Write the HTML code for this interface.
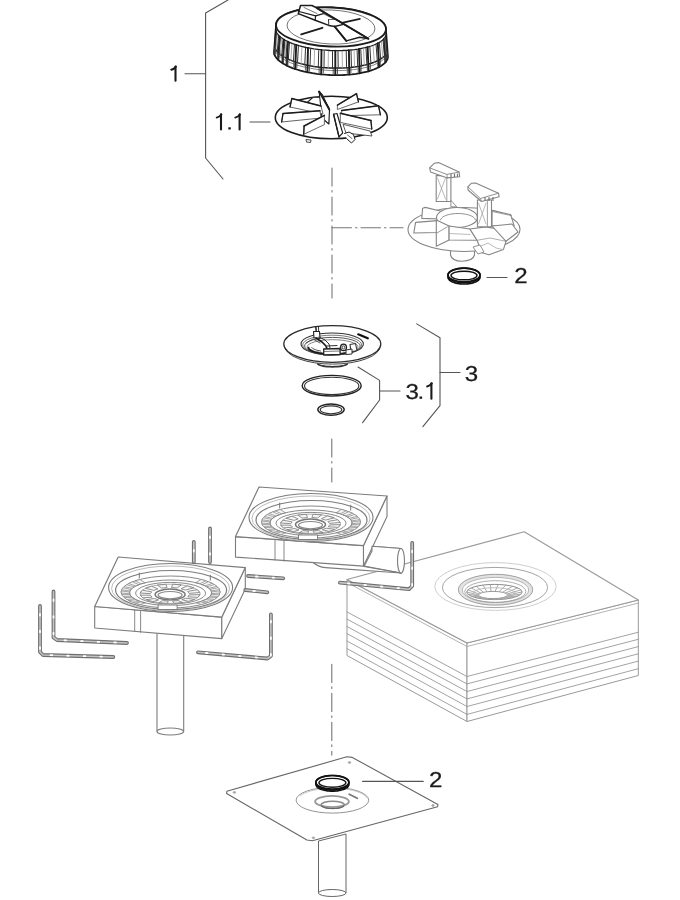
<!DOCTYPE html>
<html><head><meta charset="utf-8">
<style>
html,body{margin:0;padding:0;background:#fff;}
body{width:680px;height:900px;overflow:hidden;}
svg{display:block;}
text{text-rendering:geometricPrecision;}
.gs{filter:grayscale(1);}
</style></head><body>
<svg width="680" height="900" viewBox="0 0 680 900">
<rect width="680" height="900" fill="#fff"/>
<line x1="332" y1="168" x2="332" y2="298" stroke="#777" stroke-width="1.1" stroke-linecap="round" stroke-dasharray="18,4.5,1.5,5"/>
<line x1="332" y1="227.7" x2="403" y2="227.7" stroke="#777" stroke-width="1.1" stroke-linecap="round" stroke-dasharray="19.5,4,1.5,4"/>
<line x1="331.8" y1="439" x2="331.8" y2="482" stroke="#777" stroke-width="1.1" stroke-linecap="round" stroke-dasharray="18,4.5,1.5,5"/>
<line x1="331.8" y1="664.4" x2="331.8" y2="755" stroke="#777" stroke-width="1.1" stroke-linecap="round" stroke-dasharray="18,4.5,1.5,5"/>
<polygon points="276.1,24.6 276.3,23.1 276.9,21.6 277.8,20.1 279,18.7 280.6,17.3 282.4,16 284.6,14.8 287,13.6 289.8,12.5 292.7,11.5 296,10.6 299.4,9.8 303,9.1 306.8,8.6 310.8,8.1 314.8,7.7 319,7.5 323.2,7.4 327.5,7.4 331.9,7.5 336.2,7.8 340.4,8.1 344.7,8.6 348.8,9.2 352.8,9.9 356.7,10.7 360.4,11.6 364,12.6 367.3,13.7 370.5,14.9 373.3,16.2 376,17.5 378.3,18.9 380.3,20.3 382.1,21.8 383.5,23.3 384.6,24.8 385.4,26.3 385.8,27.9 385.9,29.4 387.9,56.5 387.7,58.1 387.1,59.7 386.2,61.3 384.9,62.8 383.3,64.3 381.3,65.7 379.1,67.1 376.5,68.3 373.7,69.5 370.6,70.6 367.3,71.6 363.7,72.4 360,73.2 356,73.8 351.9,74.3 347.7,74.7 343.4,75 339,75.1 334.6,75.1 330.1,75 325.6,74.7 321.2,74.3 316.8,73.8 312.5,73.2 308.4,72.4 304.3,71.6 300.5,70.6 296.8,69.5 293.3,68.3 290.1,67.1 287.1,65.7 284.4,64.3 282,62.8 279.8,61.3 278,59.7 276.6,58.1 275.4,56.5 274.6,54.8 274.2,53.2 274.1,51.5" stroke="#1c1c1c" stroke-width="1.8" fill="#fff" stroke-linejoin="round" />
<polyline points="386.3,34.8 385.7,36.2 384.9,37.6 383.8,39 382.4,40.3 380.7,41.6 378.7,42.8 376.4,43.9 373.9,45 371.2,46 368.2,46.9 365,47.7 361.6,48.4 358.1,49.1 354.4,49.6 350.5,50 346.6,50.3 342.5,50.5 338.5,50.6 334.3,50.6 330.1,50.5 326,50.2 321.9,49.9 317.8,49.4 313.8,48.9 309.9,48.2 306.1,47.5 302.5,46.6 299,45.7 295.7,44.7 292.6,43.6 289.7,42.4 287,41.2 284.6,39.9 282.5,38.6 280.6,37.2 279,35.8 277.7,34.3 276.7,32.9 276,31.4 275.6,29.9" stroke="#1c1c1c" stroke-width="1.3" fill="none" stroke-linejoin="round" stroke-linecap="round" />
<polyline points="387.2,51.7 386.6,53.1 385.6,54.6 384.4,56 382.9,57.4 381.1,58.7 379,60 376.6,61.2 374.1,62.3 371.3,63.3 368.2,64.2 365,65.1 361.6,65.8 358,66.5 354.3,67 350.4,67.5 346.5,67.8 342.5,68 338.4,68.1 334.2,68.1 330.1,68 325.9,67.7 321.8,67.4 317.7,66.9 313.8,66.4 309.8,65.7 306.1,64.9 302.4,64.1 298.9,63.1 295.6,62.1 292.4,60.9 289.5,59.7 286.8,58.5 284.3,57.1 282.1,55.8 280.1,54.3 278.4,52.9 277,51.3 275.9,49.8 275.1,48.3 274.6,46.7" stroke="#1c1c1c" stroke-width="1.5" fill="none" stroke-linejoin="round" stroke-linecap="round" />
<polyline points="387,54.9 386.2,56.3 385.1,57.7 383.8,59.1 382.2,60.4 380.3,61.7 378.2,62.9 375.9,64 373.3,65.1 370.5,66.1 367.5,67 364.3,67.8 360.9,68.5 357.4,69.1 353.7,69.6 350,70 346.1,70.3 342.2,70.5 338.2,70.6 334.1,70.6 330.1,70.5 326,70.2 322,69.9 318,69.5 314.1,68.9 310.3,68.3 306.6,67.5 303,66.7 299.5,65.8 296.3,64.8 293.1,63.7 290.2,62.6 287.5,61.3 285,60.1 282.8,58.7 280.8,57.3 279,55.9 277.6,54.5 276.3,53 275.4,51.5 274.8,50" stroke="#666" stroke-width="0.8" fill="none" stroke-linejoin="round" stroke-linecap="round" />
<line x1="276" y1="31.3" x2="274.5" y2="54.5" stroke="#1c1c1c" stroke-width="1.9" stroke-linecap="round" />
<line x1="279.6" y1="36.4" x2="278.2" y2="59.9" stroke="#1c1c1c" stroke-width="1.9" stroke-linecap="round" />
<line x1="284" y1="39.6" x2="282.7" y2="63.3" stroke="#1c1c1c" stroke-width="1.9" stroke-linecap="round" />
<line x1="288" y1="41.7" x2="286.8" y2="65.6" stroke="#1c1c1c" stroke-width="1.9" stroke-linecap="round" />
<line x1="296.2" y1="44.9" x2="295.2" y2="69" stroke="#1c1c1c" stroke-width="1.9" stroke-linecap="round" />
<line x1="308" y1="47.9" x2="307.4" y2="72.2" stroke="#1c1c1c" stroke-width="1.9" stroke-linecap="round" />
<line x1="321.5" y1="49.9" x2="321.2" y2="74.3" stroke="#1c1c1c" stroke-width="1.9" stroke-linecap="round" />
<line x1="335.3" y1="50.6" x2="335.3" y2="75.1" stroke="#1c1c1c" stroke-width="1.9" stroke-linecap="round" />
<line x1="348.9" y1="50.2" x2="349.3" y2="74.6" stroke="#1c1c1c" stroke-width="1.9" stroke-linecap="round" />
<line x1="359" y1="48.9" x2="359.7" y2="73.2" stroke="#1c1c1c" stroke-width="1.9" stroke-linecap="round" />
<line x1="367.6" y1="47.1" x2="368.6" y2="71.2" stroke="#1c1c1c" stroke-width="1.9" stroke-linecap="round" />
<line x1="377.8" y1="43.2" x2="379.1" y2="67.1" stroke="#1c1c1c" stroke-width="1.9" stroke-linecap="round" />
<line x1="384.1" y1="38.7" x2="385.5" y2="62.2" stroke="#1c1c1c" stroke-width="1.9" stroke-linecap="round" />
<line x1="385.8" y1="36.1" x2="387.3" y2="59.4" stroke="#1c1c1c" stroke-width="1.9" stroke-linecap="round" />
<line x1="276.4" y1="33.3" x2="274.9" y2="48.6" stroke="#333" stroke-width="1.0" stroke-linecap="round" />
<line x1="277.3" y1="34.9" x2="275.9" y2="50.2" stroke="#999" stroke-width="0.8" stroke-linecap="round" />
<line x1="278.6" y1="36.4" x2="277.2" y2="51.8" stroke="#333" stroke-width="1.0" stroke-linecap="round" />
<line x1="274.8" y1="48.3" x2="274.8" y2="53.8" stroke="#444" stroke-width="0.9" stroke-linecap="round" />
<line x1="277.4" y1="52.1" x2="277.4" y2="57.6" stroke="#444" stroke-width="0.9" stroke-linecap="round" />
<line x1="280.4" y1="38" x2="279" y2="53.6" stroke="#333" stroke-width="1.0" stroke-linecap="round" />
<line x1="281.6" y1="39" x2="280.3" y2="54.7" stroke="#999" stroke-width="0.8" stroke-linecap="round" />
<line x1="283" y1="40" x2="281.7" y2="55.7" stroke="#333" stroke-width="1.0" stroke-linecap="round" />
<line x1="278.8" y1="53.4" x2="278.8" y2="58.9" stroke="#444" stroke-width="0.9" stroke-linecap="round" />
<line x1="282" y1="55.8" x2="282" y2="61.3" stroke="#444" stroke-width="0.9" stroke-linecap="round" />
<line x1="284.8" y1="41" x2="283.5" y2="56.8" stroke="#333" stroke-width="1.0" stroke-linecap="round" />
<line x1="285.9" y1="41.6" x2="284.7" y2="57.5" stroke="#999" stroke-width="0.8" stroke-linecap="round" />
<line x1="287.1" y1="42.3" x2="285.9" y2="58.1" stroke="#333" stroke-width="1.0" stroke-linecap="round" />
<line x1="283.3" y1="56.7" x2="283.3" y2="62.2" stroke="#444" stroke-width="0.9" stroke-linecap="round" />
<line x1="286.1" y1="58.3" x2="286.1" y2="63.8" stroke="#444" stroke-width="0.9" stroke-linecap="round" />
<line x1="289.5" y1="43.3" x2="288.3" y2="59.3" stroke="#333" stroke-width="1.0" stroke-linecap="round" />
<line x1="291.9" y1="44.3" x2="290.8" y2="60.4" stroke="#999" stroke-width="0.8" stroke-linecap="round" />
<line x1="294.4" y1="45.3" x2="293.4" y2="61.4" stroke="#333" stroke-width="1.0" stroke-linecap="round" />
<line x1="287.9" y1="59.1" x2="287.9" y2="64.6" stroke="#444" stroke-width="0.9" stroke-linecap="round" />
<line x1="293.8" y1="61.5" x2="293.8" y2="67" stroke="#444" stroke-width="0.9" stroke-linecap="round" />
<line x1="298.4" y1="46.5" x2="297.5" y2="62.7" stroke="#333" stroke-width="1.0" stroke-linecap="round" />
<line x1="301.9" y1="47.5" x2="301.1" y2="63.7" stroke="#999" stroke-width="0.8" stroke-linecap="round" />
<line x1="305.5" y1="48.4" x2="304.8" y2="64.7" stroke="#333" stroke-width="1.0" stroke-linecap="round" />
<line x1="296.9" y1="62.6" x2="296.9" y2="68.1" stroke="#444" stroke-width="0.9" stroke-linecap="round" />
<line x1="305.4" y1="64.8" x2="305.4" y2="70.3" stroke="#444" stroke-width="0.9" stroke-linecap="round" />
<line x1="310.6" y1="49.4" x2="310" y2="65.8" stroke="#333" stroke-width="1.0" stroke-linecap="round" />
<line x1="314.6" y1="50" x2="314.1" y2="66.4" stroke="#999" stroke-width="0.8" stroke-linecap="round" />
<line x1="318.7" y1="50.6" x2="318.3" y2="67" stroke="#333" stroke-width="1.0" stroke-linecap="round" />
<line x1="309.4" y1="65.6" x2="309.4" y2="71.1" stroke="#444" stroke-width="0.9" stroke-linecap="round" />
<line x1="319.1" y1="67.1" x2="319.1" y2="72.6" stroke="#444" stroke-width="0.9" stroke-linecap="round" />
<line x1="324.2" y1="51.1" x2="324" y2="67.6" stroke="#333" stroke-width="1.0" stroke-linecap="round" />
<line x1="328.4" y1="51.4" x2="328.2" y2="67.9" stroke="#999" stroke-width="0.8" stroke-linecap="round" />
<line x1="332.5" y1="51.6" x2="332.5" y2="68.1" stroke="#333" stroke-width="1.0" stroke-linecap="round" />
<line x1="323.3" y1="67.5" x2="323.3" y2="73" stroke="#444" stroke-width="0.9" stroke-linecap="round" />
<line x1="333.2" y1="68.1" x2="333.2" y2="73.6" stroke="#444" stroke-width="0.9" stroke-linecap="round" />
<line x1="338" y1="51.6" x2="338.2" y2="68.1" stroke="#333" stroke-width="1.0" stroke-linecap="round" />
<line x1="342.2" y1="51.5" x2="342.4" y2="68" stroke="#999" stroke-width="0.8" stroke-linecap="round" />
<line x1="346.2" y1="51.3" x2="346.6" y2="67.8" stroke="#333" stroke-width="1.0" stroke-linecap="round" />
<line x1="337.5" y1="68.1" x2="337.5" y2="73.6" stroke="#444" stroke-width="0.9" stroke-linecap="round" />
<line x1="347.3" y1="67.8" x2="347.3" y2="73.3" stroke="#444" stroke-width="0.9" stroke-linecap="round" />
<line x1="351" y1="51" x2="351.5" y2="67.4" stroke="#333" stroke-width="1.0" stroke-linecap="round" />
<line x1="354.1" y1="50.6" x2="354.6" y2="67" stroke="#999" stroke-width="0.8" stroke-linecap="round" />
<line x1="357.1" y1="50.2" x2="357.7" y2="66.6" stroke="#333" stroke-width="1.0" stroke-linecap="round" />
<line x1="350.9" y1="67.4" x2="350.9" y2="72.9" stroke="#444" stroke-width="0.9" stroke-linecap="round" />
<line x1="358.2" y1="66.5" x2="358.2" y2="72" stroke="#444" stroke-width="0.9" stroke-linecap="round" />
<line x1="360.8" y1="49.6" x2="361.6" y2="65.9" stroke="#333" stroke-width="1.0" stroke-linecap="round" />
<line x1="363.5" y1="49.1" x2="364.3" y2="65.3" stroke="#999" stroke-width="0.8" stroke-linecap="round" />
<line x1="366" y1="48.5" x2="366.9" y2="64.7" stroke="#333" stroke-width="1.0" stroke-linecap="round" />
<line x1="361.1" y1="66" x2="361.1" y2="71.5" stroke="#444" stroke-width="0.9" stroke-linecap="round" />
<line x1="367.3" y1="64.6" x2="367.3" y2="70.1" stroke="#444" stroke-width="0.9" stroke-linecap="round" />
<line x1="369.9" y1="47.4" x2="370.9" y2="63.5" stroke="#333" stroke-width="1.0" stroke-linecap="round" />
<line x1="373.1" y1="46.3" x2="374.3" y2="62.3" stroke="#999" stroke-width="0.8" stroke-linecap="round" />
<line x1="376.1" y1="45.1" x2="377.3" y2="61" stroke="#333" stroke-width="1.0" stroke-linecap="round" />
<line x1="370.4" y1="63.7" x2="370.4" y2="69.2" stroke="#444" stroke-width="0.9" stroke-linecap="round" />
<line x1="377.7" y1="60.8" x2="377.7" y2="66.3" stroke="#444" stroke-width="0.9" stroke-linecap="round" />
<line x1="379.4" y1="43.4" x2="380.7" y2="59.2" stroke="#333" stroke-width="1.0" stroke-linecap="round" />
<line x1="381.4" y1="42.1" x2="382.8" y2="57.7" stroke="#999" stroke-width="0.8" stroke-linecap="round" />
<line x1="383.1" y1="40.7" x2="384.5" y2="56.2" stroke="#333" stroke-width="1.0" stroke-linecap="round" />
<line x1="380.3" y1="59.4" x2="380.3" y2="64.9" stroke="#444" stroke-width="0.9" stroke-linecap="round" />
<line x1="384.8" y1="56" x2="384.8" y2="61.5" stroke="#444" stroke-width="0.9" stroke-linecap="round" />
<line x1="384.5" y1="39.2" x2="385.9" y2="54.6" stroke="#333" stroke-width="1.0" stroke-linecap="round" />
<line x1="385.1" y1="38.4" x2="386.5" y2="53.8" stroke="#999" stroke-width="0.8" stroke-linecap="round" />
<line x1="385.5" y1="37.6" x2="387" y2="53" stroke="#333" stroke-width="1.0" stroke-linecap="round" />
<line x1="385.8" y1="54.8" x2="385.8" y2="60.3" stroke="#444" stroke-width="0.9" stroke-linecap="round" />
<line x1="387.1" y1="52.8" x2="387.1" y2="58.3" stroke="#444" stroke-width="0.9" stroke-linecap="round" />
<ellipse cx="331" cy="27" rx="55" ry="19.5" stroke="#1c1c1c" stroke-width="1.8" fill="#fff" transform="rotate(2.5 331 27)" />
<ellipse cx="331" cy="27" rx="44" ry="17" stroke="#666" stroke-width="0.9" fill="none" transform="rotate(2.5 331 27)" />
<line x1="301.2" y1="34.4" x2="322.4" y2="27.8" stroke="#1c1c1c" stroke-width="1.9" stroke-linecap="round" />
<line x1="341.9" y1="22.9" x2="359.9" y2="18.8" stroke="#1c1c1c" stroke-width="1.7" stroke-linecap="round" />
<polygon points="298.3,13.6 300.5,5.5 312,5.5 317,8.1 368.4,38.7 359.6,37.2 346.3,40.9 334.6,26.5 328.8,25.4 315.2,20.2" stroke="#1c1c1c" stroke-width="1.5" fill="#fff" stroke-linejoin="round" />
<line x1="299" y1="11.5" x2="315.6" y2="15.8" stroke="#1c1c1c" stroke-width="1.2" stroke-linecap="round" />
<line x1="315.6" y1="15.8" x2="323.3" y2="13.6" stroke="#1c1c1c" stroke-width="1.3" stroke-linecap="round" />
<line x1="315.6" y1="15.8" x2="315.2" y2="20.2" stroke="#1c1c1c" stroke-width="1.2" stroke-linecap="round" />
<line x1="328.5" y1="19.5" x2="328.8" y2="25.4" stroke="#333" stroke-width="1.0" stroke-linecap="round" />
<line x1="323.3" y1="13.6" x2="334.7" y2="19.5" stroke="#444" stroke-width="0.9" stroke-linecap="round" />
<line x1="328.5" y1="19.5" x2="334.7" y2="19.5" stroke="#444" stroke-width="0.8" stroke-linecap="round" />
<line x1="334.6" y1="26.5" x2="343.4" y2="24.3" stroke="#1c1c1c" stroke-width="1.3" stroke-linecap="round" />
<line x1="343.4" y1="24.3" x2="364" y2="35.7" stroke="#444" stroke-width="0.9" stroke-linecap="round" />
<line x1="334.6" y1="26.5" x2="346.3" y2="40.9" stroke="#1c1c1c" stroke-width="1.9" stroke-linecap="round" />
<line x1="304" y1="7.5" x2="317" y2="13.5" stroke="#555" stroke-width="0.8" stroke-linecap="round" />
<line x1="317" y1="8.1" x2="368.4" y2="38.7" stroke="#1c1c1c" stroke-width="1.9" stroke-linecap="round" />
<ellipse cx="331.3" cy="117.5" rx="56" ry="21.3" stroke="#1c1c1c" stroke-width="1.6" fill="#fff" />
<polygon points="307.7,102 313,97.3 321,97.3 321,106 308,104" stroke="#1c1c1c" stroke-width="1.1" fill="#fff" stroke-linejoin="round" />
<polygon points="319.1,91.5 328.8,108 328.8,124 322,101" stroke="#555" stroke-width="0.9" fill="#fff" stroke-linejoin="round" />
<line x1="319.1" y1="91.5" x2="328.8" y2="108" stroke="#1c1c1c" stroke-width="1.5" stroke-linecap="round" />
<line x1="319.1" y1="91.5" x2="322" y2="101" stroke="#1c1c1c" stroke-width="1.3" stroke-linecap="round" />
<polygon points="319.1,91.5 322.5,95 329.5,110 328.8,124 322,118" stroke="#1c1c1c" stroke-width="1.1" fill="#fff" stroke-linejoin="round" />
<line x1="319.1" y1="91.5" x2="329.5" y2="110" stroke="#1c1c1c" stroke-width="1.6" stroke-linecap="round" />
<polygon points="356.5,93.7 337.4,105.2 337.4,109.5 358.5,101.9" stroke="#555" stroke-width="0.9" fill="#fff" stroke-linejoin="round" />
<line x1="356.5" y1="93.7" x2="337.4" y2="105.2" stroke="#1c1c1c" stroke-width="1.5" stroke-linecap="round" />
<line x1="356.5" y1="93.7" x2="358.5" y2="101.9" stroke="#1c1c1c" stroke-width="1.3" stroke-linecap="round" />
<polygon points="291.8,98.6 321,106 323,114 290,107" stroke="#555" stroke-width="0.9" fill="#fff" stroke-linejoin="round" />
<line x1="291.8" y1="98.6" x2="321" y2="106" stroke="#1c1c1c" stroke-width="1.5" stroke-linecap="round" />
<line x1="291.8" y1="98.6" x2="290" y2="107" stroke="#1c1c1c" stroke-width="1.3" stroke-linecap="round" />
<polygon points="378.5,105.7 341.7,110.5 341.7,115.7 380.4,114.8" stroke="#555" stroke-width="0.9" fill="#fff" stroke-linejoin="round" />
<line x1="378.5" y1="105.7" x2="341.7" y2="110.5" stroke="#1c1c1c" stroke-width="1.5" stroke-linecap="round" />
<line x1="378.5" y1="105.7" x2="380.4" y2="114.8" stroke="#1c1c1c" stroke-width="1.3" stroke-linecap="round" />
<polygon points="283,113.6 320,110.8 321,118 281.6,122" stroke="#555" stroke-width="0.9" fill="#fff" stroke-linejoin="round" />
<line x1="283" y1="113.6" x2="320" y2="110.8" stroke="#1c1c1c" stroke-width="1.5" stroke-linecap="round" />
<line x1="283" y1="113.6" x2="281.6" y2="122" stroke="#1c1c1c" stroke-width="1.3" stroke-linecap="round" />
<polygon points="343,124.3 370,131 372,136 346,133" stroke="#444" stroke-width="0.9" fill="#fff" stroke-linejoin="round" />
<polygon points="370.9,120.5 340.3,113.3 340.3,122.4 371.8,129.1" stroke="#555" stroke-width="0.9" fill="#fff" stroke-linejoin="round" />
<line x1="370.9" y1="120.5" x2="340.3" y2="113.3" stroke="#1c1c1c" stroke-width="1.5" stroke-linecap="round" />
<line x1="370.9" y1="120.5" x2="371.8" y2="129.1" stroke="#1c1c1c" stroke-width="1.3" stroke-linecap="round" />
<polygon points="304.1,126 324.4,115.4 324.4,124.6 303.7,134.3" stroke="#555" stroke-width="0.9" fill="#fff" stroke-linejoin="round" />
<line x1="304.1" y1="126" x2="324.4" y2="115.4" stroke="#1c1c1c" stroke-width="1.5" stroke-linecap="round" />
<line x1="304.1" y1="126" x2="303.7" y2="134.3" stroke="#1c1c1c" stroke-width="1.3" stroke-linecap="round" />
<polygon points="333.6,114.3 337,113.5 342.7,133 339,136.8" stroke="#1c1c1c" stroke-width="1.1" fill="#fff" stroke-linejoin="round" />
<line x1="333.6" y1="114.3" x2="339" y2="136.8" stroke="#1c1c1c" stroke-width="1.4" stroke-linecap="round" />
<polyline points="344.5,133.5 349,132 353.5,134.5 355,139.5 351.5,143 347,139" stroke="#1c1c1c" stroke-width="1.0" fill="#fff" stroke-linejoin="round" stroke-linecap="round" />
<line x1="347.5" y1="135" x2="352" y2="138.5" stroke="#444" stroke-width="0.8" stroke-linecap="round" />
<polygon points="306,139.5 311,140 310.5,142.5 306.5,142" stroke="#333" stroke-width="0.9" fill="#fff" stroke-linejoin="round" />
<path d="M450.5 248 V255 Q452 261.2 462 261.2 Q473 261 474.5 255 V248" stroke="#858585" stroke-width="1.1" fill="#fff" stroke-linejoin="round" stroke-linecap="round" />
<ellipse cx="464" cy="229.5" rx="56" ry="22" stroke="#858585" stroke-width="1.1" fill="#fff" />
<polygon points="422.6,208.2 425.3,207.4 441.2,211.3 441,219 421.8,218.4" stroke="#858585" stroke-width="1.1" fill="#fff" stroke-linejoin="round" />
<polygon points="492.1,210.4 510.6,214.6 514.2,225.9 492,226" stroke="#858585" stroke-width="1.1" fill="#fff" stroke-linejoin="round" />
<line x1="492.1" y1="211.5" x2="511.6" y2="215.6" stroke="#858585" stroke-width="0.8" stroke-linecap="round" />
<polygon points="415.6,222.4 437.7,220.6 437.7,232.5 413.8,233" stroke="#858585" stroke-width="1.1" fill="#fff" stroke-linejoin="round" />
<ellipse cx="457" cy="217.5" rx="20.5" ry="10" stroke="#858585" stroke-width="1.1" fill="#fff" />
<polyline points="440.6,219.9 441,218.9 441.8,217.9 442.9,216.9 444.4,216.1 446.2,215.3 448.2,214.7 450.5,214.2 452.9,213.8 455.4,213.6 458,213.5 460.6,213.6 463.1,213.8 465.5,214.2 467.8,214.7 469.8,215.3 471.6,216.1 473.1,216.9 474.2,217.9 475,218.9 475.4,219.9" stroke="#858585" stroke-width="0.9" fill="none" stroke-linejoin="round" stroke-linecap="round" />
<polygon points="436.3,220 449.1,226 449.1,240 436.3,246.2" stroke="#858585" stroke-width="1.1" fill="#fff" stroke-linejoin="round" />
<line x1="436.3" y1="233.4" x2="447.4" y2="226.8" stroke="#858585" stroke-width="0.8" stroke-linecap="round" />
<polygon points="449.1,226 469.9,229 477.1,240.3 449.1,240" stroke="#858585" stroke-width="1.1" fill="#fff" stroke-linejoin="round" />
<line x1="449.1" y1="233.5" x2="470" y2="234.5" stroke="#aaa" stroke-width="0.8" stroke-linecap="round" />
<polygon points="469.9,229 485.9,226.9 503.4,230 506,241.3 503.4,249.6 489,254.7 481.8,252.7 477.1,240.3" stroke="#858585" stroke-width="1.1" fill="#fff" stroke-linejoin="round" />
<polyline points="477.1,240.3 490,238 506,241.3" stroke="#999" stroke-width="0.8" fill="none" stroke-linejoin="round" stroke-linecap="round" />
<polyline points="481,246 488,243 496,248 503.4,249.6" stroke="#aaa" stroke-width="0.8" fill="none" stroke-linejoin="round" stroke-linecap="round" />
<polygon points="473,247 480,245 484,252 478,254" stroke="#858585" stroke-width="0.9" fill="#fff" stroke-linejoin="round" />
<polygon points="492,226 512,224 518,232 506,241.3" stroke="#858585" stroke-width="1.1" fill="#fff" stroke-linejoin="round" />
<polygon points="436.2,175.6 450.9,175.6 450.9,201.5 436.2,201.5" stroke="#858585" stroke-width="1.1" fill="#fff" stroke-linejoin="round" />
<line x1="446.8" y1="176" x2="446.8" y2="201" stroke="#858585" stroke-width="0.8" stroke-linecap="round" />
<polyline points="437.5,178 445.5,199" stroke="#999" stroke-width="0.7" fill="none" stroke-linejoin="round" stroke-linecap="round" />
<polyline points="445.5,178 437.5,199" stroke="#999" stroke-width="0.7" fill="none" stroke-linejoin="round" stroke-linecap="round" />
<polygon points="450.9,200.3 456.8,206.8 450.9,206.8" stroke="#858585" stroke-width="0.9" fill="#fff" stroke-linejoin="round" />
<polygon points="429.7,167.9 434.4,163.2 438.5,162.6 459.1,172.1 459.7,176.8 447.4,177.9 430.5,172" stroke="#858585" stroke-width="1.1" fill="#fff" stroke-linejoin="round" />
<polyline points="429.7,167.9 446.8,174.4 459.1,172.1" stroke="#858585" stroke-width="0.9" fill="none" stroke-linejoin="round" stroke-linecap="round" />
<line x1="446.8" y1="174.4" x2="447.4" y2="177.9" stroke="#858585" stroke-width="0.8" stroke-linecap="round" />
<line x1="451" y1="174" x2="451" y2="176.5" stroke="#777" stroke-width="1.2" stroke-linecap="round" />
<line x1="454.5" y1="174" x2="454.5" y2="176.5" stroke="#777" stroke-width="1.2" stroke-linecap="round" />
<line x1="457.5" y1="174" x2="457.5" y2="176.5" stroke="#777" stroke-width="1.2" stroke-linecap="round" />
<polygon points="477.4,200 491.5,200 491.5,226.8 477.4,226.8" stroke="#858585" stroke-width="1.1" fill="#fff" stroke-linejoin="round" />
<line x1="487.4" y1="200" x2="487.4" y2="226.5" stroke="#858585" stroke-width="0.8" stroke-linecap="round" />
<polyline points="478.5,203 486,224" stroke="#999" stroke-width="0.7" fill="none" stroke-linejoin="round" stroke-linecap="round" />
<polyline points="486,203 478.5,224" stroke="#999" stroke-width="0.7" fill="none" stroke-linejoin="round" stroke-linecap="round" />
<polygon points="467.9,186.8 471.5,183.2 475.6,183 498.5,193.2 499.1,196.8 481.5,201.5 468,190" stroke="#858585" stroke-width="1.1" fill="#fff" stroke-linejoin="round" />
<polyline points="467.9,186.8 480.3,198.5 498.5,193.2" stroke="#858585" stroke-width="0.9" fill="none" stroke-linejoin="round" stroke-linecap="round" />
<line x1="480.3" y1="198.5" x2="481.5" y2="201.5" stroke="#858585" stroke-width="0.8" stroke-linecap="round" />
<line x1="485" y1="197.5" x2="485" y2="200.5" stroke="#777" stroke-width="1.2" stroke-linecap="round" />
<line x1="489" y1="197.5" x2="489" y2="200.5" stroke="#777" stroke-width="1.2" stroke-linecap="round" />
<line x1="493" y1="197.5" x2="493" y2="200.5" stroke="#777" stroke-width="1.2" stroke-linecap="round" />
<polygon points="448,275 448.1,274.3 448.3,273.6 448.8,272.9 449.4,272.2 450.1,271.6 451.1,271 452.1,270.4 453.3,269.9 454.6,269.5 456,269.1 457.5,268.8 459.1,268.5 460.7,268.3 462.3,268.2 464,268.2 465.7,268.2 467.3,268.3 468.9,268.5 470.5,268.8 472,269.1 473.4,269.5 474.7,269.9 475.9,270.4 476.9,271 477.9,271.6 478.6,272.2 479.2,272.9 479.7,273.6 479.9,274.3 480,275 480,277.2 479.9,277.9 479.7,278.6 479.2,279.3 478.6,280 477.9,280.6 476.9,281.2 475.9,281.8 474.7,282.3 473.4,282.7 472,283.1 470.5,283.4 468.9,283.7 467.3,283.9 465.7,284 464,284 462.3,284 460.7,283.9 459.1,283.7 457.5,283.4 456,283.1 454.6,282.7 453.3,282.3 452.1,281.8 451.1,281.2 450.1,280.6 449.4,280 448.8,279.3 448.3,278.6 448.1,277.9 448,277.2" stroke="#111" stroke-width="1.7" fill="#fff" stroke-linejoin="round" />
<polyline points="479.5,277.3 479.1,277.9 478.7,278.5 478.1,279.1 477.4,279.6 476.6,280.2 475.7,280.7 474.6,281.1 473.5,281.5 472.3,281.9 471,282.2 469.7,282.4 468.3,282.6 466.9,282.8 465.5,282.9 464,282.9 462.5,282.9 461.1,282.8 459.7,282.6 458.3,282.4 457,282.2 455.7,281.9 454.5,281.5 453.4,281.1 452.3,280.7 451.4,280.2 450.6,279.6 449.9,279.1 449.3,278.5 448.9,277.9 448.5,277.3" stroke="#111" stroke-width="1.3" fill="none" stroke-linejoin="round" stroke-linecap="round" />
<polyline points="479.6,276.1 479.4,276.8 479.1,277.5 478.6,278.1 477.9,278.7 477.1,279.3 476.2,279.8 475.2,280.3 474,280.8 472.8,281.2 471.5,281.5 470.1,281.8 468.6,282.1 467.1,282.2 465.6,282.3 464,282.4 462.4,282.3 460.9,282.2 459.4,282.1 457.9,281.8 456.5,281.5 455.2,281.2 454,280.8 452.8,280.3 451.8,279.8 450.9,279.3 450.1,278.7 449.4,278.1 448.9,277.5 448.6,276.8 448.4,276.1" stroke="#111" stroke-width="1.0" fill="none" stroke-linejoin="round" stroke-linecap="round" />
<ellipse cx="464" cy="275" rx="16" ry="6.8" stroke="#111" stroke-width="1.7" fill="none" />
<ellipse cx="464" cy="275.5" rx="13" ry="4.3" stroke="#111" stroke-width="1.4" fill="#fff" />
<polyline points="347.3,363.8 346.6,364.4 345.5,365 344,365.5 342.1,366 340,366.3 337.6,366.6 335.1,366.7 332.5,366.8 329.9,366.7 327.4,366.6 325,366.3 322.9,366 321,365.5 319.5,365 318.4,364.4 317.7,363.8" stroke="#333" stroke-width="1.8" fill="none" stroke-linejoin="round" stroke-linecap="round" />
<ellipse cx="332.5" cy="345.8" rx="47.8" ry="18.3" stroke="#444" stroke-width="1.0" fill="#fff" />
<ellipse cx="332.3" cy="344" rx="48.5" ry="18.3" stroke="#2a2a2a" stroke-width="1.25" fill="#fff" />
<ellipse cx="332.2" cy="344" rx="31.2" ry="11" stroke="#333" stroke-width="1.1" fill="#fff" />
<ellipse cx="332.2" cy="345" rx="29.5" ry="9.8" stroke="#555" stroke-width="0.8" fill="none" />
<ellipse cx="332.4" cy="346" rx="27.8" ry="8.6" stroke="#444" stroke-width="0.9" fill="none" />
<ellipse cx="332.6" cy="347" rx="25.5" ry="7.3" stroke="#666" stroke-width="0.8" fill="none" />
<polyline points="324.3,353.6 322.4,353.4 320.6,353.1 318.9,352.9 317.3,352.5 315.7,352.2 314.3,351.8 313.1,351.3 312,350.9 311,350.4 310.2,349.9 309.5,349.4 309,348.8 308.7,348.3 308.5,347.7" stroke="#1a1a1a" stroke-width="1.9" fill="none" stroke-linejoin="round" stroke-linecap="round" />
<polyline points="350.9,351.7 349.5,352.1 347.9,352.5 346.3,352.8 344.5,353.1 342.6,353.4 340.7,353.6 338.7,353.8 336.7,353.9 334.6,354 332.5,354 330.4,354 328.3,353.9" stroke="#222" stroke-width="1.6" fill="none" stroke-linejoin="round" stroke-linecap="round" />
<polyline points="320.5,351 319.1,350.7 317.9,350.5 316.8,350.1 315.7,349.8 314.8,349.5 314,349.1 313.2,348.7 312.6,348.3 312.2,347.9 311.8,347.5" stroke="#444" stroke-width="1.0" fill="none" stroke-linejoin="round" stroke-linecap="round" />
<line x1="315.8" y1="327" x2="316.8" y2="337" stroke="#222" stroke-width="1.5" stroke-linecap="round" />
<line x1="318.5" y1="327" x2="318.8" y2="336" stroke="#333" stroke-width="1.0" stroke-linecap="round" />
<polygon points="313.5,331.5 319.5,331.5 320,338 314,338" stroke="#222" stroke-width="1.1" fill="#fff" stroke-linejoin="round" />
<polyline points="316,338 322,342 326,346 327,349" stroke="#1a1a1a" stroke-width="1.7" fill="none" stroke-linejoin="round" stroke-linecap="round" />
<polyline points="319,337 325,340 329,344 330,348" stroke="#333" stroke-width="1.0" fill="none" stroke-linejoin="round" stroke-linecap="round" />
<polyline points="306,343 313,339 320,343" stroke="#444" stroke-width="0.9" fill="none" stroke-linejoin="round" stroke-linecap="round" />
<ellipse cx="343.5" cy="347.4" rx="3" ry="3.2" stroke="#222" stroke-width="1.3" fill="#fff" />
<ellipse cx="343.5" cy="347.4" rx="1.3" ry="1.5" stroke="#333" stroke-width="0.9" fill="none" />
<polygon points="350,344.5 355.5,343.5 357,350.5 351,352" stroke="#333" stroke-width="1.1" fill="#fff" stroke-linejoin="round" />
<polygon points="346,350 352,349 352,354 346,354.5" stroke="#333" stroke-width="1.0" fill="#fff" stroke-linejoin="round" />
<polygon points="323.7,349 340,348.5 340.2,354.5 323.7,355" stroke="#222" stroke-width="1.3" fill="#fff" stroke-linejoin="round" />
<line x1="327" y1="346" x2="337" y2="345.5" stroke="#333" stroke-width="1.2" stroke-linecap="round" />
<line x1="324" y1="351.5" x2="340" y2="351" stroke="#555" stroke-width="0.8" stroke-linecap="round" />
<line x1="358.2" y1="334.3" x2="367.8" y2="338.3" stroke="#111" stroke-width="2.2" stroke-linecap="round" />
<ellipse cx="331.7" cy="385.7" rx="29.5" ry="10.3" stroke="#222" stroke-width="1.4" fill="none" />
<ellipse cx="331.7" cy="385.9" rx="27.2" ry="8.6" stroke="#333" stroke-width="1.1" fill="none" />
<ellipse cx="331" cy="409.6" rx="13.2" ry="5.6" stroke="#222" stroke-width="1.4" fill="none" />
<ellipse cx="331" cy="409.8" rx="10.8" ry="3.9" stroke="#333" stroke-width="1.1" fill="none" />
<polygon points="347,579.5 467,643 467,721.5 347,655.5" stroke="#999" stroke-width="1.0" fill="#fff" stroke-linejoin="round" />
<polygon points="467,643 638.3,600 638.3,675.5 467,721.5" stroke="#999" stroke-width="1.0" fill="#fff" stroke-linejoin="round" />
<polygon points="347,579.5 524.2,531.8 638.3,600 467,643" stroke="#999" stroke-width="1.1" fill="#fff" stroke-linejoin="round" />
<line x1="348" y1="583" x2="467" y2="646.5" stroke="#aaa" stroke-width="0.9" stroke-linecap="round" />
<line x1="467" y1="646.5" x2="637.8" y2="603.2" stroke="#aaa" stroke-width="0.9" stroke-linecap="round" />
<line x1="347" y1="611.9" x2="467" y2="676.5" stroke="#999" stroke-width="0.9" stroke-linecap="round" />
<line x1="467" y1="676.5" x2="638.3" y2="632.2" stroke="#999" stroke-width="0.9" stroke-linecap="round" />
<line x1="347" y1="619.1" x2="467" y2="683.9" stroke="#999" stroke-width="0.9" stroke-linecap="round" />
<line x1="467" y1="683.9" x2="638.3" y2="639.3" stroke="#999" stroke-width="0.9" stroke-linecap="round" />
<line x1="347" y1="626.5" x2="467" y2="691.5" stroke="#999" stroke-width="0.9" stroke-linecap="round" />
<line x1="467" y1="691.5" x2="638.3" y2="646.6" stroke="#999" stroke-width="0.9" stroke-linecap="round" />
<line x1="347" y1="633.6" x2="467" y2="698.9" stroke="#999" stroke-width="0.9" stroke-linecap="round" />
<line x1="467" y1="698.9" x2="638.3" y2="653.8" stroke="#999" stroke-width="0.9" stroke-linecap="round" />
<line x1="347" y1="641" x2="467" y2="706.5" stroke="#999" stroke-width="0.9" stroke-linecap="round" />
<line x1="467" y1="706.5" x2="638.3" y2="661.1" stroke="#999" stroke-width="0.9" stroke-linecap="round" />
<line x1="347" y1="648.6" x2="467" y2="714.4" stroke="#999" stroke-width="0.9" stroke-linecap="round" />
<line x1="467" y1="714.4" x2="638.3" y2="668.7" stroke="#999" stroke-width="0.9" stroke-linecap="round" />
<ellipse cx="495.5" cy="586.5" rx="60.7" ry="23.9" stroke="#c8c8c8" stroke-width="0.9" fill="none" />
<ellipse cx="495" cy="587.5" rx="52.6" ry="20.1" stroke="#9a9a9a" stroke-width="0.9" fill="none" />
<ellipse cx="495.5" cy="589.7" rx="35.5" ry="14.2" stroke="#e2e2e2" stroke-width="3.2" fill="none" />
<ellipse cx="495.5" cy="589.7" rx="37.2" ry="15.4" stroke="#999" stroke-width="0.9" fill="none" />
<ellipse cx="495.5" cy="590" rx="33.2" ry="12.6" stroke="#aaa" stroke-width="0.9" fill="none" />
<ellipse cx="495.3" cy="591.5" rx="30.5" ry="10.8" stroke="#999" stroke-width="0.8" fill="none" />
<ellipse cx="494.4" cy="592" rx="27.6" ry="7.6" stroke="#8a8a8a" stroke-width="1.0" fill="none" />
<line x1="522" y1="592" x2="507.5" y2="595" stroke="#a0a0a0" stroke-width="0.9" stroke-linecap="round" />
<line x1="520.9" y1="594.1" x2="506.9" y2="596" stroke="#a0a0a0" stroke-width="0.9" stroke-linecap="round" />
<line x1="517.6" y1="596.1" x2="505.2" y2="596.9" stroke="#a0a0a0" stroke-width="0.9" stroke-linecap="round" />
<line x1="512.5" y1="597.7" x2="502.5" y2="597.7" stroke="#a0a0a0" stroke-width="0.9" stroke-linecap="round" />
<line x1="505.9" y1="598.9" x2="499" y2="598.3" stroke="#a0a0a0" stroke-width="0.9" stroke-linecap="round" />
<line x1="498.3" y1="599.5" x2="495.1" y2="598.6" stroke="#a0a0a0" stroke-width="0.9" stroke-linecap="round" />
<line x1="490.5" y1="599.5" x2="490.9" y2="598.6" stroke="#a0a0a0" stroke-width="0.9" stroke-linecap="round" />
<line x1="482.9" y1="598.9" x2="487" y2="598.3" stroke="#a0a0a0" stroke-width="0.9" stroke-linecap="round" />
<line x1="476.3" y1="597.7" x2="483.5" y2="597.7" stroke="#a0a0a0" stroke-width="0.9" stroke-linecap="round" />
<line x1="471.2" y1="596.1" x2="480.8" y2="596.9" stroke="#a0a0a0" stroke-width="0.9" stroke-linecap="round" />
<line x1="467.9" y1="594.1" x2="479.1" y2="596" stroke="#a0a0a0" stroke-width="0.9" stroke-linecap="round" />
<line x1="466.8" y1="592" x2="478.5" y2="595" stroke="#a0a0a0" stroke-width="0.9" stroke-linecap="round" />
<line x1="467.9" y1="589.9" x2="479.1" y2="594" stroke="#a0a0a0" stroke-width="0.9" stroke-linecap="round" />
<line x1="471.2" y1="587.9" x2="480.8" y2="593.1" stroke="#a0a0a0" stroke-width="0.9" stroke-linecap="round" />
<line x1="476.3" y1="586.3" x2="483.5" y2="592.3" stroke="#a0a0a0" stroke-width="0.9" stroke-linecap="round" />
<line x1="482.9" y1="585.1" x2="487" y2="591.7" stroke="#a0a0a0" stroke-width="0.9" stroke-linecap="round" />
<line x1="490.5" y1="584.5" x2="490.9" y2="591.4" stroke="#a0a0a0" stroke-width="0.9" stroke-linecap="round" />
<line x1="498.3" y1="584.5" x2="495.1" y2="591.4" stroke="#a0a0a0" stroke-width="0.9" stroke-linecap="round" />
<line x1="505.9" y1="585.1" x2="499" y2="591.7" stroke="#a0a0a0" stroke-width="0.9" stroke-linecap="round" />
<line x1="512.5" y1="586.3" x2="502.5" y2="592.3" stroke="#a0a0a0" stroke-width="0.9" stroke-linecap="round" />
<line x1="517.6" y1="587.9" x2="505.2" y2="593.1" stroke="#a0a0a0" stroke-width="0.9" stroke-linecap="round" />
<line x1="520.9" y1="589.9" x2="506.9" y2="594" stroke="#a0a0a0" stroke-width="0.9" stroke-linecap="round" />
<polyline points="515,593.3 514.7,594.2 514,595 512.7,595.8 511,596.6 508.8,597.3 506.3,597.8 503.5,598.3 500.5,598.6 497.3,598.8 494,598.9 490.7,598.8 487.5,598.6 484.5,598.3 481.7,597.8 479.2,597.3 477,596.6 475.3,595.8 474,595 473.3,594.2 473,593.3 473.3,592.4 474,591.6 475.3,590.8 477,590 479.2,589.3 481.7,588.8 484.5,588.3 487.5,588 490.7,587.8 494,587.7 497.3,587.8 500.5,588 503.5,588.3 506.3,588.8 508.8,589.3 511,590 512.7,590.8 514,591.6 514.7,592.4 515,593.3" stroke="#b0b0b0" stroke-width="0.8" fill="none" stroke-linejoin="round" stroke-linecap="round" />
<ellipse cx="493" cy="595" rx="14.5" ry="3.6" stroke="#999" stroke-width="1.0" fill="#fff" />
<path d="M312.6 556 L312.6 562 Q318 567 325.6 567.6 L401 573 L401 548.5 L372 546.3 Z" stroke="#7c7c7c" stroke-width="1.1" fill="#fff" stroke-linejoin="round" stroke-linecap="round" />
<polygon points="235.5,536.6 363.5,545.6 363.5,566.1 235.5,557.1" stroke="#7c7c7c" stroke-width="1.1" fill="#fff" stroke-linejoin="round" />
<polygon points="387,496 387,516.5 363.5,566.1 363.5,545.6" stroke="#7c7c7c" stroke-width="1.1" fill="#fff" stroke-linejoin="round" />
<polygon points="259,487 387,496 363.5,545.6 235.5,536.6" stroke="#7c7c7c" stroke-width="1.2" fill="#fff" stroke-linejoin="round" />
<line x1="275" y1="539.9" x2="275" y2="559.9" stroke="#7c7c7c" stroke-width="0.9" stroke-linecap="round" />
<line x1="284" y1="540.5" x2="284" y2="561" stroke="#7c7c7c" stroke-width="0.9" stroke-linecap="round" />
<ellipse cx="311" cy="517.5" rx="62" ry="24" stroke="#7c7c7c" stroke-width="1.1" fill="#fff" />
<ellipse cx="311" cy="518.3" rx="59" ry="22.3" stroke="#aaa" stroke-width="0.8" fill="none" />
<ellipse cx="311.5" cy="520" rx="55.5" ry="19.5" stroke="#7c7c7c" stroke-width="1.2" fill="none" />
<ellipse cx="311" cy="522" rx="49.5" ry="16" stroke="#888" stroke-width="1.0" fill="none" />
<polygon points="280.5,534.6 275.7,533.2 281.8,531.8 285.8,532.9" stroke="#8f8f8f" stroke-width="0.8" fill="#f4f4f4" stroke-linejoin="round" />
<polygon points="273.1,532.3 269.3,530.6 276.4,529.7 279.6,531" stroke="#8f8f8f" stroke-width="0.8" fill="#f4f4f4" stroke-linejoin="round" />
<polygon points="267.3,529.5 264.6,527.6 272.6,527.3 274.8,528.8" stroke="#8f8f8f" stroke-width="0.8" fill="#f4f4f4" stroke-linejoin="round" />
<polygon points="263.4,526.4 262,524.4 270.5,524.7 271.6,526.3" stroke="#8f8f8f" stroke-width="0.8" fill="#f4f4f4" stroke-linejoin="round" />
<polygon points="261.6,523.1 261.6,521 270.1,522 270.1,523.7" stroke="#8f8f8f" stroke-width="0.8" fill="#f4f4f4" stroke-linejoin="round" />
<polygon points="262,519.8 263.3,517.7 271.5,519.4 270.4,521" stroke="#8f8f8f" stroke-width="0.8" fill="#f4f4f4" stroke-linejoin="round" />
<polygon points="264.5,516.5 267.1,514.6 274.6,516.9 272.5,518.4" stroke="#8f8f8f" stroke-width="0.8" fill="#f4f4f4" stroke-linejoin="round" />
<polygon points="269,513.5 272.8,511.8 279.4,514.7 276.2,516" stroke="#8f8f8f" stroke-width="0.8" fill="#f4f4f4" stroke-linejoin="round" />
<polygon points="275.4,510.9 280.2,509.5 285.5,512.8 281.5,513.9" stroke="#8f8f8f" stroke-width="0.8" fill="#f4f4f4" stroke-linejoin="round" />
<polygon points="341.5,509.4 346.3,510.8 340.2,513.8 336.2,512.7" stroke="#8f8f8f" stroke-width="0.8" fill="#f4f4f4" stroke-linejoin="round" />
<polygon points="348.9,511.7 352.7,513.4 345.6,515.9 342.4,514.6" stroke="#8f8f8f" stroke-width="0.8" fill="#f4f4f4" stroke-linejoin="round" />
<polygon points="354.7,514.5 357.4,516.4 349.4,518.3 347.2,516.8" stroke="#8f8f8f" stroke-width="0.8" fill="#f4f4f4" stroke-linejoin="round" />
<polygon points="358.6,517.6 360,519.6 351.5,520.9 350.4,519.3" stroke="#8f8f8f" stroke-width="0.8" fill="#f4f4f4" stroke-linejoin="round" />
<polygon points="360.4,520.9 360.4,523 351.9,523.6 351.9,521.9" stroke="#8f8f8f" stroke-width="0.8" fill="#f4f4f4" stroke-linejoin="round" />
<polygon points="360,524.2 358.7,526.3 350.5,526.2 351.6,524.6" stroke="#8f8f8f" stroke-width="0.8" fill="#f4f4f4" stroke-linejoin="round" />
<polygon points="357.5,527.5 354.9,529.4 347.4,528.7 349.5,527.2" stroke="#8f8f8f" stroke-width="0.8" fill="#f4f4f4" stroke-linejoin="round" />
<polygon points="353,530.5 349.2,532.2 342.6,530.9 345.8,529.6" stroke="#8f8f8f" stroke-width="0.8" fill="#f4f4f4" stroke-linejoin="round" />
<polygon points="346.6,533.1 341.8,534.5 336.5,532.8 340.5,531.7" stroke="#8f8f8f" stroke-width="0.8" fill="#f4f4f4" stroke-linejoin="round" />
<ellipse cx="311" cy="522.8" rx="41" ry="12.8" stroke="#888" stroke-width="1.0" fill="none" />
<ellipse cx="311" cy="523.2" rx="35" ry="10.8" stroke="#8a8a8a" stroke-width="1.0" fill="none" />
<ellipse cx="310.5" cy="523.8" rx="30" ry="9.6" stroke="#999" stroke-width="0.8" fill="none" />
<polygon points="340.4,524.6 338.3,527.4 328.3,526.8 329.6,524.9" stroke="#858585" stroke-width="0.9" fill="#f6f6f6" stroke-linejoin="round" />
<polygon points="335.1,529.3 329,531.4 322.2,529.7 326.2,528.2" stroke="#858585" stroke-width="0.9" fill="#f6f6f6" stroke-linejoin="round" />
<polygon points="323.2,532.5 314.7,533.3 312.9,531 318.4,530.5" stroke="#858585" stroke-width="0.9" fill="#f6f6f6" stroke-linejoin="round" />
<polygon points="307.9,533.4 299.3,532.7 302.9,530.6 308.5,531.1" stroke="#858585" stroke-width="0.9" fill="#f6f6f6" stroke-linejoin="round" />
<polygon points="293.3,531.7 286.9,529.7 294.8,528.5 299,529.9" stroke="#858585" stroke-width="0.9" fill="#f6f6f6" stroke-linejoin="round" />
<polygon points="283.3,527.9 280.8,525.1 290.9,525.2 292.5,527.2" stroke="#858585" stroke-width="0.9" fill="#f6f6f6" stroke-linejoin="round" />
<polygon points="280.6,523 282.7,520.2 292.1,521.8 290.8,523.7" stroke="#858585" stroke-width="0.9" fill="#f6f6f6" stroke-linejoin="round" />
<polygon points="285.9,518.3 292,516.2 298.2,518.9 294.2,520.4" stroke="#858585" stroke-width="0.9" fill="#f6f6f6" stroke-linejoin="round" />
<polygon points="297.8,515.1 306.3,514.3 307.5,517.6 302,518.1" stroke="#858585" stroke-width="0.9" fill="#f6f6f6" stroke-linejoin="round" />
<polygon points="313.1,514.2 321.7,514.9 317.5,518 311.9,517.5" stroke="#858585" stroke-width="0.9" fill="#f6f6f6" stroke-linejoin="round" />
<polygon points="327.7,515.9 334.1,517.9 325.6,520.1 321.4,518.7" stroke="#858585" stroke-width="0.9" fill="#f6f6f6" stroke-linejoin="round" />
<polygon points="337.7,519.7 340.2,522.5 329.5,523.4 327.9,521.4" stroke="#858585" stroke-width="0.9" fill="#f6f6f6" stroke-linejoin="round" />
<ellipse cx="310.5" cy="524.5" rx="15" ry="5.4" stroke="#777" stroke-width="1.5" fill="#fff" />
<ellipse cx="310.5" cy="525.1" rx="12" ry="3.6" stroke="#888" stroke-width="1.1" fill="none" />
<rect x="298.5" y="535" width="19" height="4.5" fill="#fff" stroke="#777" stroke-width="0.9"/>
<line x1="279.7" y1="503" x2="279.7" y2="508" stroke="#777" stroke-width="1.0" stroke-linecap="round" />
<line x1="350.7" y1="505.2" x2="350.7" y2="510.2" stroke="#777" stroke-width="1.0" stroke-linecap="round" />
<polygon points="372,546.3 401,548.5 401,573 364,566.5 372,551" stroke="#7c7c7c" stroke-width="1.1" fill="#fff" stroke-linejoin="round" />
<line x1="364" y1="566" x2="401" y2="573" stroke="#7c7c7c" stroke-width="1.1" stroke-linecap="round" />
<ellipse cx="401" cy="560.8" rx="3.5" ry="12.3" stroke="#7c7c7c" stroke-width="1.1" fill="#fff" />
<polygon points="157,620 157,731 183.7,731 183.7,620" stroke="#7c7c7c" stroke-width="1.1" fill="#fff" stroke-linejoin="round" />
<ellipse cx="170.3" cy="731.5" rx="13.3" ry="3.5" stroke="#7c7c7c" stroke-width="1.1" fill="#fff" />
<polygon points="94.7,606.5 221.8,617.1 221.8,638.6 94.7,628" stroke="#7c7c7c" stroke-width="1.1" fill="#fff" stroke-linejoin="round" />
<polygon points="245.3,567.6 245.3,589.1 221.8,638.6 221.8,617.1" stroke="#7c7c7c" stroke-width="1.1" fill="#fff" stroke-linejoin="round" />
<polygon points="118.2,557 245.3,567.6 221.8,617.1 94.7,606.5" stroke="#7c7c7c" stroke-width="1.2" fill="#fff" stroke-linejoin="round" />
<line x1="134.7" y1="610.3" x2="134.7" y2="631.3" stroke="#7c7c7c" stroke-width="0.9" stroke-linecap="round" />
<line x1="140.6" y1="610.8" x2="140.6" y2="632.3" stroke="#7c7c7c" stroke-width="0.9" stroke-linecap="round" />
<ellipse cx="170.6" cy="587.5" rx="62" ry="24" stroke="#7c7c7c" stroke-width="1.1" fill="#fff" />
<ellipse cx="170.6" cy="588.3" rx="59" ry="22.3" stroke="#aaa" stroke-width="0.8" fill="none" />
<ellipse cx="171.1" cy="590" rx="55.5" ry="19.5" stroke="#7c7c7c" stroke-width="1.2" fill="none" />
<ellipse cx="170.6" cy="592" rx="49.5" ry="16" stroke="#888" stroke-width="1.0" fill="none" />
<polygon points="140.1,604.6 135.3,603.2 141.4,601.8 145.4,602.9" stroke="#8f8f8f" stroke-width="0.8" fill="#f4f4f4" stroke-linejoin="round" />
<polygon points="132.7,602.3 128.9,600.6 136,599.7 139.2,601" stroke="#8f8f8f" stroke-width="0.8" fill="#f4f4f4" stroke-linejoin="round" />
<polygon points="126.9,599.5 124.2,597.6 132.2,597.3 134.4,598.8" stroke="#8f8f8f" stroke-width="0.8" fill="#f4f4f4" stroke-linejoin="round" />
<polygon points="123,596.4 121.6,594.4 130.1,594.7 131.2,596.3" stroke="#8f8f8f" stroke-width="0.8" fill="#f4f4f4" stroke-linejoin="round" />
<polygon points="121.2,593.1 121.2,591 129.7,592 129.7,593.7" stroke="#8f8f8f" stroke-width="0.8" fill="#f4f4f4" stroke-linejoin="round" />
<polygon points="121.6,589.8 122.9,587.7 131.1,589.4 130,591" stroke="#8f8f8f" stroke-width="0.8" fill="#f4f4f4" stroke-linejoin="round" />
<polygon points="124.1,586.5 126.7,584.6 134.2,586.9 132.1,588.4" stroke="#8f8f8f" stroke-width="0.8" fill="#f4f4f4" stroke-linejoin="round" />
<polygon points="128.6,583.5 132.4,581.8 139,584.7 135.8,586" stroke="#8f8f8f" stroke-width="0.8" fill="#f4f4f4" stroke-linejoin="round" />
<polygon points="135,580.9 139.8,579.5 145.1,582.8 141.1,583.9" stroke="#8f8f8f" stroke-width="0.8" fill="#f4f4f4" stroke-linejoin="round" />
<polygon points="201.1,579.4 205.9,580.8 199.8,583.8 195.8,582.7" stroke="#8f8f8f" stroke-width="0.8" fill="#f4f4f4" stroke-linejoin="round" />
<polygon points="208.5,581.7 212.3,583.4 205.2,585.9 202,584.6" stroke="#8f8f8f" stroke-width="0.8" fill="#f4f4f4" stroke-linejoin="round" />
<polygon points="214.3,584.5 217,586.4 209,588.3 206.8,586.8" stroke="#8f8f8f" stroke-width="0.8" fill="#f4f4f4" stroke-linejoin="round" />
<polygon points="218.2,587.6 219.6,589.6 211.1,590.9 210,589.3" stroke="#8f8f8f" stroke-width="0.8" fill="#f4f4f4" stroke-linejoin="round" />
<polygon points="220,590.9 220,593 211.5,593.6 211.5,591.9" stroke="#8f8f8f" stroke-width="0.8" fill="#f4f4f4" stroke-linejoin="round" />
<polygon points="219.6,594.2 218.3,596.3 210.1,596.2 211.2,594.6" stroke="#8f8f8f" stroke-width="0.8" fill="#f4f4f4" stroke-linejoin="round" />
<polygon points="217.1,597.5 214.5,599.4 207,598.7 209.1,597.2" stroke="#8f8f8f" stroke-width="0.8" fill="#f4f4f4" stroke-linejoin="round" />
<polygon points="212.6,600.5 208.8,602.2 202.2,600.9 205.4,599.6" stroke="#8f8f8f" stroke-width="0.8" fill="#f4f4f4" stroke-linejoin="round" />
<polygon points="206.2,603.1 201.4,604.5 196.1,602.8 200.1,601.7" stroke="#8f8f8f" stroke-width="0.8" fill="#f4f4f4" stroke-linejoin="round" />
<ellipse cx="170.6" cy="592.8" rx="41" ry="12.8" stroke="#888" stroke-width="1.0" fill="none" />
<ellipse cx="170.6" cy="593.2" rx="35" ry="10.8" stroke="#8a8a8a" stroke-width="1.0" fill="none" />
<ellipse cx="170.1" cy="593.8" rx="30" ry="9.6" stroke="#999" stroke-width="0.8" fill="none" />
<polygon points="200,594.6 197.9,597.4 187.9,596.8 189.2,594.9" stroke="#858585" stroke-width="0.9" fill="#f6f6f6" stroke-linejoin="round" />
<polygon points="194.7,599.3 188.6,601.4 181.8,599.7 185.8,598.2" stroke="#858585" stroke-width="0.9" fill="#f6f6f6" stroke-linejoin="round" />
<polygon points="182.8,602.5 174.3,603.3 172.5,601 178,600.5" stroke="#858585" stroke-width="0.9" fill="#f6f6f6" stroke-linejoin="round" />
<polygon points="167.5,603.4 158.9,602.7 162.5,600.6 168.1,601.1" stroke="#858585" stroke-width="0.9" fill="#f6f6f6" stroke-linejoin="round" />
<polygon points="152.9,601.7 146.5,599.7 154.4,598.5 158.6,599.9" stroke="#858585" stroke-width="0.9" fill="#f6f6f6" stroke-linejoin="round" />
<polygon points="142.9,597.9 140.4,595.1 150.5,595.2 152.1,597.2" stroke="#858585" stroke-width="0.9" fill="#f6f6f6" stroke-linejoin="round" />
<polygon points="140.2,593 142.3,590.2 151.7,591.8 150.4,593.7" stroke="#858585" stroke-width="0.9" fill="#f6f6f6" stroke-linejoin="round" />
<polygon points="145.5,588.3 151.6,586.2 157.8,588.9 153.8,590.4" stroke="#858585" stroke-width="0.9" fill="#f6f6f6" stroke-linejoin="round" />
<polygon points="157.4,585.1 165.9,584.3 167.1,587.6 161.6,588.1" stroke="#858585" stroke-width="0.9" fill="#f6f6f6" stroke-linejoin="round" />
<polygon points="172.7,584.2 181.3,584.9 177.1,588 171.5,587.5" stroke="#858585" stroke-width="0.9" fill="#f6f6f6" stroke-linejoin="round" />
<polygon points="187.3,585.9 193.7,587.9 185.2,590.1 181,588.7" stroke="#858585" stroke-width="0.9" fill="#f6f6f6" stroke-linejoin="round" />
<polygon points="197.3,589.7 199.8,592.5 189.1,593.4 187.5,591.4" stroke="#858585" stroke-width="0.9" fill="#f6f6f6" stroke-linejoin="round" />
<ellipse cx="170.1" cy="594.5" rx="15" ry="5.4" stroke="#777" stroke-width="1.5" fill="#fff" />
<ellipse cx="170.1" cy="595.1" rx="12" ry="3.6" stroke="#888" stroke-width="1.1" fill="none" />
<rect x="158.1" y="605" width="19" height="4.5" fill="#fff" stroke="#777" stroke-width="0.9"/>
<line x1="139.3" y1="573" x2="139.3" y2="578" stroke="#777" stroke-width="1.0" stroke-linecap="round" />
<line x1="210.3" y1="575.2" x2="210.3" y2="580.2" stroke="#777" stroke-width="1.0" stroke-linecap="round" />
<polyline points="53.5,591.5 53.5,637.5 57,640 127,643" stroke="#6e6e6e" stroke-width="3.8" fill="none" stroke-linejoin="round" stroke-linecap="round" />
<polyline points="53.5,591.5 53.5,637.5 57,640 127,643" stroke="#c4c4c4" stroke-width="1.6" fill="none" stroke-linejoin="round" stroke-linecap="round" />
<polyline points="53.5,591.5 53.5,637.5 57,640 127,643" stroke="#fff" stroke-width="1.8" fill="none" stroke-linejoin="round" stroke-linecap="round" stroke-dasharray="1.6,15" stroke-dashoffset="-8" stroke-linecap="butt"/>
<polyline points="40,606 40,652 43,655 113.3,657" stroke="#6e6e6e" stroke-width="3.8" fill="none" stroke-linejoin="round" stroke-linecap="round" />
<polyline points="40,606 40,652 43,655 113.3,657" stroke="#c4c4c4" stroke-width="1.6" fill="none" stroke-linejoin="round" stroke-linecap="round" />
<polyline points="40,606 40,652 43,655 113.3,657" stroke="#fff" stroke-width="1.8" fill="none" stroke-linejoin="round" stroke-linecap="round" stroke-dasharray="1.6,15" stroke-dashoffset="-8" stroke-linecap="butt"/>
<polyline points="198,652.3 267.5,658.5 270.9,656 270.9,614.4" stroke="#6e6e6e" stroke-width="3.8" fill="none" stroke-linejoin="round" stroke-linecap="round" />
<polyline points="198,652.3 267.5,658.5 270.9,656 270.9,614.4" stroke="#c4c4c4" stroke-width="1.6" fill="none" stroke-linejoin="round" stroke-linecap="round" />
<polyline points="198,652.3 267.5,658.5 270.9,656 270.9,614.4" stroke="#fff" stroke-width="1.8" fill="none" stroke-linejoin="round" stroke-linecap="round" stroke-dasharray="1.6,15" stroke-dashoffset="-8" stroke-linecap="butt"/>
<polyline points="193.8,542 193.8,562" stroke="#6e6e6e" stroke-width="3.8" fill="none" stroke-linejoin="round" stroke-linecap="round" />
<polyline points="193.8,542 193.8,562" stroke="#c4c4c4" stroke-width="1.6" fill="none" stroke-linejoin="round" stroke-linecap="round" />
<polyline points="193.8,542 193.8,562" stroke="#fff" stroke-width="1.8" fill="none" stroke-linejoin="round" stroke-linecap="round" stroke-dasharray="1.6,15" stroke-dashoffset="-8" stroke-linecap="butt"/>
<polyline points="210,528.5 210,562" stroke="#6e6e6e" stroke-width="3.8" fill="none" stroke-linejoin="round" stroke-linecap="round" />
<polyline points="210,528.5 210,562" stroke="#c4c4c4" stroke-width="1.6" fill="none" stroke-linejoin="round" stroke-linecap="round" />
<polyline points="210,528.5 210,562" stroke="#fff" stroke-width="1.8" fill="none" stroke-linejoin="round" stroke-linecap="round" stroke-dasharray="1.6,15" stroke-dashoffset="-8" stroke-linecap="butt"/>
<polyline points="248,576 283.2,578.3" stroke="#6e6e6e" stroke-width="3.8" fill="none" stroke-linejoin="round" stroke-linecap="round" />
<polyline points="248,576 283.2,578.3" stroke="#c4c4c4" stroke-width="1.6" fill="none" stroke-linejoin="round" stroke-linecap="round" />
<polyline points="248,576 283.2,578.3" stroke="#fff" stroke-width="1.8" fill="none" stroke-linejoin="round" stroke-linecap="round" stroke-dasharray="1.6,15" stroke-dashoffset="-8" stroke-linecap="butt"/>
<polyline points="245.3,590 267.3,592.3" stroke="#6e6e6e" stroke-width="3.8" fill="none" stroke-linejoin="round" stroke-linecap="round" />
<polyline points="245.3,590 267.3,592.3" stroke="#c4c4c4" stroke-width="1.6" fill="none" stroke-linejoin="round" stroke-linecap="round" />
<polyline points="245.3,590 267.3,592.3" stroke="#fff" stroke-width="1.8" fill="none" stroke-linejoin="round" stroke-linecap="round" stroke-dasharray="1.6,15" stroke-dashoffset="-8" stroke-linecap="butt"/>
<polyline points="339.9,582.6 409,589.2 412.2,586 412.2,543" stroke="#6e6e6e" stroke-width="3.8" fill="none" stroke-linejoin="round" stroke-linecap="round" />
<polyline points="339.9,582.6 409,589.2 412.2,586 412.2,543" stroke="#c4c4c4" stroke-width="1.6" fill="none" stroke-linejoin="round" stroke-linecap="round" />
<polyline points="339.9,582.6 409,589.2 412.2,586 412.2,543" stroke="#fff" stroke-width="1.8" fill="none" stroke-linejoin="round" stroke-linecap="round" stroke-dasharray="1.6,15" stroke-dashoffset="-8" stroke-linecap="butt"/>
<polygon points="346.8,756.8 352.3,757.4 437.9,804.6 437.6,806.8 312.4,840.7 306.9,840 226.6,793.5 226.9,791.2" stroke="#666" stroke-width="1.1" fill="#fff" stroke-linejoin="round" />
<ellipse cx="349.5" cy="762.5" rx="1.3" ry="0.9" stroke="#999" stroke-width="0.6" fill="#aaa" />
<ellipse cx="433" cy="805.5" rx="1.3" ry="0.9" stroke="#999" stroke-width="0.6" fill="#aaa" />
<ellipse cx="313.4" cy="837.8" rx="1.3" ry="0.9" stroke="#999" stroke-width="0.6" fill="#aaa" />
<ellipse cx="234.4" cy="792.4" rx="1.3" ry="0.9" stroke="#999" stroke-width="0.6" fill="#aaa" />
<polygon points="318.5,841 318.5,893 346,893 346,834" stroke="#666" stroke-width="1.0" fill="#fff" stroke-linejoin="round" />
<ellipse cx="332.2" cy="893" rx="13.8" ry="3.5" stroke="#666" stroke-width="1.0" fill="#fff" />
<ellipse cx="332.4" cy="800.2" rx="36.3" ry="12.9" stroke="#888" stroke-width="0.9" fill="#fff" />
<polyline points="300.4,795.9 302.2,794.5 304.5,793.2 307.4,792 310.6,791 314.3,790.1 318.2,789.4 322.4,788.8 326.8,788.5 331.3,788.3 335.8,788.3 340.3,788.6 344.6,789 348.7,789.6 352.6,790.4 356.1,791.3 359.2,792.4 361.9,793.6 364.1,794.9 365.7,796.3 366.8,797.8" stroke="#bbb" stroke-width="0.8" fill="none" stroke-linejoin="round" stroke-linecap="round" />
<ellipse cx="332" cy="801.5" rx="16.9" ry="5.6" stroke="#999" stroke-width="1.8" fill="none" />
<ellipse cx="332.7" cy="804.8" rx="11.6" ry="3.6" stroke="#888" stroke-width="1.4" fill="none" />
<polyline points="343.6,806.2 342.7,806.8 341.6,807.3 340.2,807.8 338.5,808.1 336.7,808.4 334.7,808.5 332.7,808.6 330.7,808.5 328.7,808.4 326.9,808.1 325.2,807.8 323.8,807.3 322.7,806.8 321.8,806.2" stroke="#666" stroke-width="1.2" fill="none" stroke-linejoin="round" stroke-linecap="round" />
<line x1="349.2" y1="794.2" x2="357.3" y2="798.2" stroke="#777" stroke-width="1.8" stroke-linecap="round" />
<polygon points="315.9,782.3 316,781.6 316.3,780.9 316.7,780.2 317.3,779.5 318.1,778.9 319.1,778.3 320.1,777.7 321.4,777.2 322.7,776.8 324.1,776.4 325.7,776.1 327.3,775.8 329,775.6 330.7,775.5 332.4,775.5 334.1,775.5 335.8,775.6 337.5,775.8 339.1,776.1 340.6,776.4 342.1,776.8 343.4,777.2 344.7,777.7 345.7,778.3 346.7,778.9 347.5,779.5 348.1,780.2 348.5,780.9 348.8,781.6 348.9,782.3 348.9,784.3 348.8,785 348.5,785.7 348.1,786.4 347.5,787.1 346.7,787.7 345.7,788.3 344.7,788.9 343.4,789.4 342.1,789.8 340.6,790.2 339.1,790.5 337.5,790.8 335.8,791 334.1,791.1 332.4,791.1 330.7,791.1 329,791 327.3,790.8 325.7,790.5 324.1,790.2 322.7,789.8 321.4,789.4 320.1,788.9 319.1,788.3 318.1,787.7 317.3,787.1 316.7,786.4 316.3,785.7 316,785 315.9,784.3" stroke="#111" stroke-width="1.7" fill="#fff" stroke-linejoin="round" />
<polyline points="348.4,784.5 348,785.1 347.6,785.7 347,786.3 346.2,786.8 345.4,787.4 344.4,787.9 343.4,788.3 342.2,788.7 341,789.1 339.7,789.4 338.3,789.6 336.9,789.8 335.4,790 333.9,790.1 332.4,790.1 330.9,790.1 329.4,790 327.9,789.8 326.5,789.6 325.1,789.4 323.8,789.1 322.6,788.7 321.4,788.3 320.4,787.9 319.4,787.4 318.6,786.8 317.8,786.3 317.2,785.7 316.8,785.1 316.4,784.5" stroke="#111" stroke-width="1.3" fill="none" stroke-linejoin="round" stroke-linecap="round" />
<polyline points="348.5,783.4 348.3,784.1 347.9,784.7 347.4,785.3 346.7,786 345.9,786.5 345,787.1 343.9,787.6 342.7,788 341.5,788.4 340.1,788.8 338.6,789.1 337.1,789.3 335.6,789.5 334,789.6 332.4,789.6 330.8,789.6 329.2,789.5 327.7,789.3 326.2,789.1 324.7,788.8 323.3,788.4 322.1,788 320.9,787.6 319.8,787.1 318.9,786.5 318.1,786 317.4,785.3 316.9,784.7 316.5,784.1 316.3,783.4" stroke="#111" stroke-width="1.0" fill="none" stroke-linejoin="round" stroke-linecap="round" />
<ellipse cx="332.4" cy="782.3" rx="16.5" ry="6.8" stroke="#111" stroke-width="1.7" fill="none" />
<ellipse cx="332.4" cy="782.8" rx="13.5" ry="4.4" stroke="#111" stroke-width="1.4" fill="#fff" />
<polyline points="228,0 205.6,13 205.6,158 223,179" stroke="#555" stroke-width="1.1" fill="none" stroke-linejoin="round" stroke-linecap="round" />
<line x1="185" y1="73.8" x2="205.6" y2="73.8" stroke="#555" stroke-width="1.1" stroke-linecap="round" />
<line x1="250" y1="122" x2="270" y2="122" stroke="#555" stroke-width="1.1" stroke-linecap="round" />
<line x1="487" y1="277.5" x2="507" y2="277.5" stroke="#555" stroke-width="1.1" stroke-linecap="round" />
<polyline points="358,367 379.6,380.4 379.6,400 362.6,422.7" stroke="#555" stroke-width="1.1" fill="none" stroke-linejoin="round" stroke-linecap="round" />
<line x1="380" y1="391" x2="400" y2="391" stroke="#555" stroke-width="1.1" stroke-linecap="round" />
<polyline points="416.7,323.9 440,337.8 440,405.7 422.9,426.7" stroke="#555" stroke-width="1.1" fill="none" stroke-linejoin="round" stroke-linecap="round" />
<line x1="440" y1="372.5" x2="460" y2="372.5" stroke="#555" stroke-width="1.1" stroke-linecap="round" />
<line x1="362.6" y1="781.4" x2="423.2" y2="781.4" stroke="#555" stroke-width="1.1" stroke-linecap="round" />
<path d="M175.5 66.5 V80.8" stroke="#1a1a1a" stroke-width="2.1" fill="none" stroke-linejoin="round" stroke-linecap="round" stroke-linecap="butt"/>
<path d="M175.9 66.6 C174.5 68.7 173.2 69.4 171.2 69.7" stroke="#1a1a1a" stroke-width="1.9" fill="none" stroke-linejoin="round" stroke-linecap="round" stroke-linecap="butt"/>
<path d="M221 114.4 V129.4" stroke="#1a1a1a" stroke-width="2.1" fill="none" stroke-linejoin="round" stroke-linecap="round" stroke-linecap="butt"/>
<path d="M221.4 114.5 C220 116.6 218.7 117.3 216.7 117.6" stroke="#1a1a1a" stroke-width="1.9" fill="none" stroke-linejoin="round" stroke-linecap="round" stroke-linecap="butt"/>
<rect x="228.3" y="127.3" width="2.5" height="2.2" fill="#1a1a1a"/>
<path d="M239.6 114.4 V129.4" stroke="#1a1a1a" stroke-width="2.1" fill="none" stroke-linejoin="round" stroke-linecap="round" stroke-linecap="butt"/>
<path d="M240 114.5 C238.6 116.6 237.3 117.3 235.3 117.6" stroke="#1a1a1a" stroke-width="1.9" fill="none" stroke-linejoin="round" stroke-linecap="round" stroke-linecap="butt"/>
<path d="M431.4 383.3 V398.8" stroke="#1a1a1a" stroke-width="2.1" fill="none" stroke-linejoin="round" stroke-linecap="round" stroke-linecap="butt"/>
<path d="M431.8 383.4 C430.4 385.5 429.1 386.2 427.1 386.5" stroke="#1a1a1a" stroke-width="1.9" fill="none" stroke-linejoin="round" stroke-linecap="round" stroke-linecap="butt"/>
<rect x="419.5" y="396.5" width="2.6" height="2.3" fill="#1a1a1a"/>
<g class="gs" font-family="Liberation Sans, sans-serif" font-size="21.5" fill="#1a1a1a" stroke="#1a1a1a" stroke-width="0.25">
<text transform="translate(405.6 398.8) scale(1.12 1)" x="0" y="0">3</text>
<text transform="translate(464.7 380.9) scale(1.12 1)" x="0" y="0">3</text>
<text transform="translate(514.3 282.7) scale(1.12 1)" x="0" y="0">2</text>
<text transform="translate(429.1 787) scale(1.12 1)" x="0" y="0">2</text>
</g>
</svg>
</body></html>
